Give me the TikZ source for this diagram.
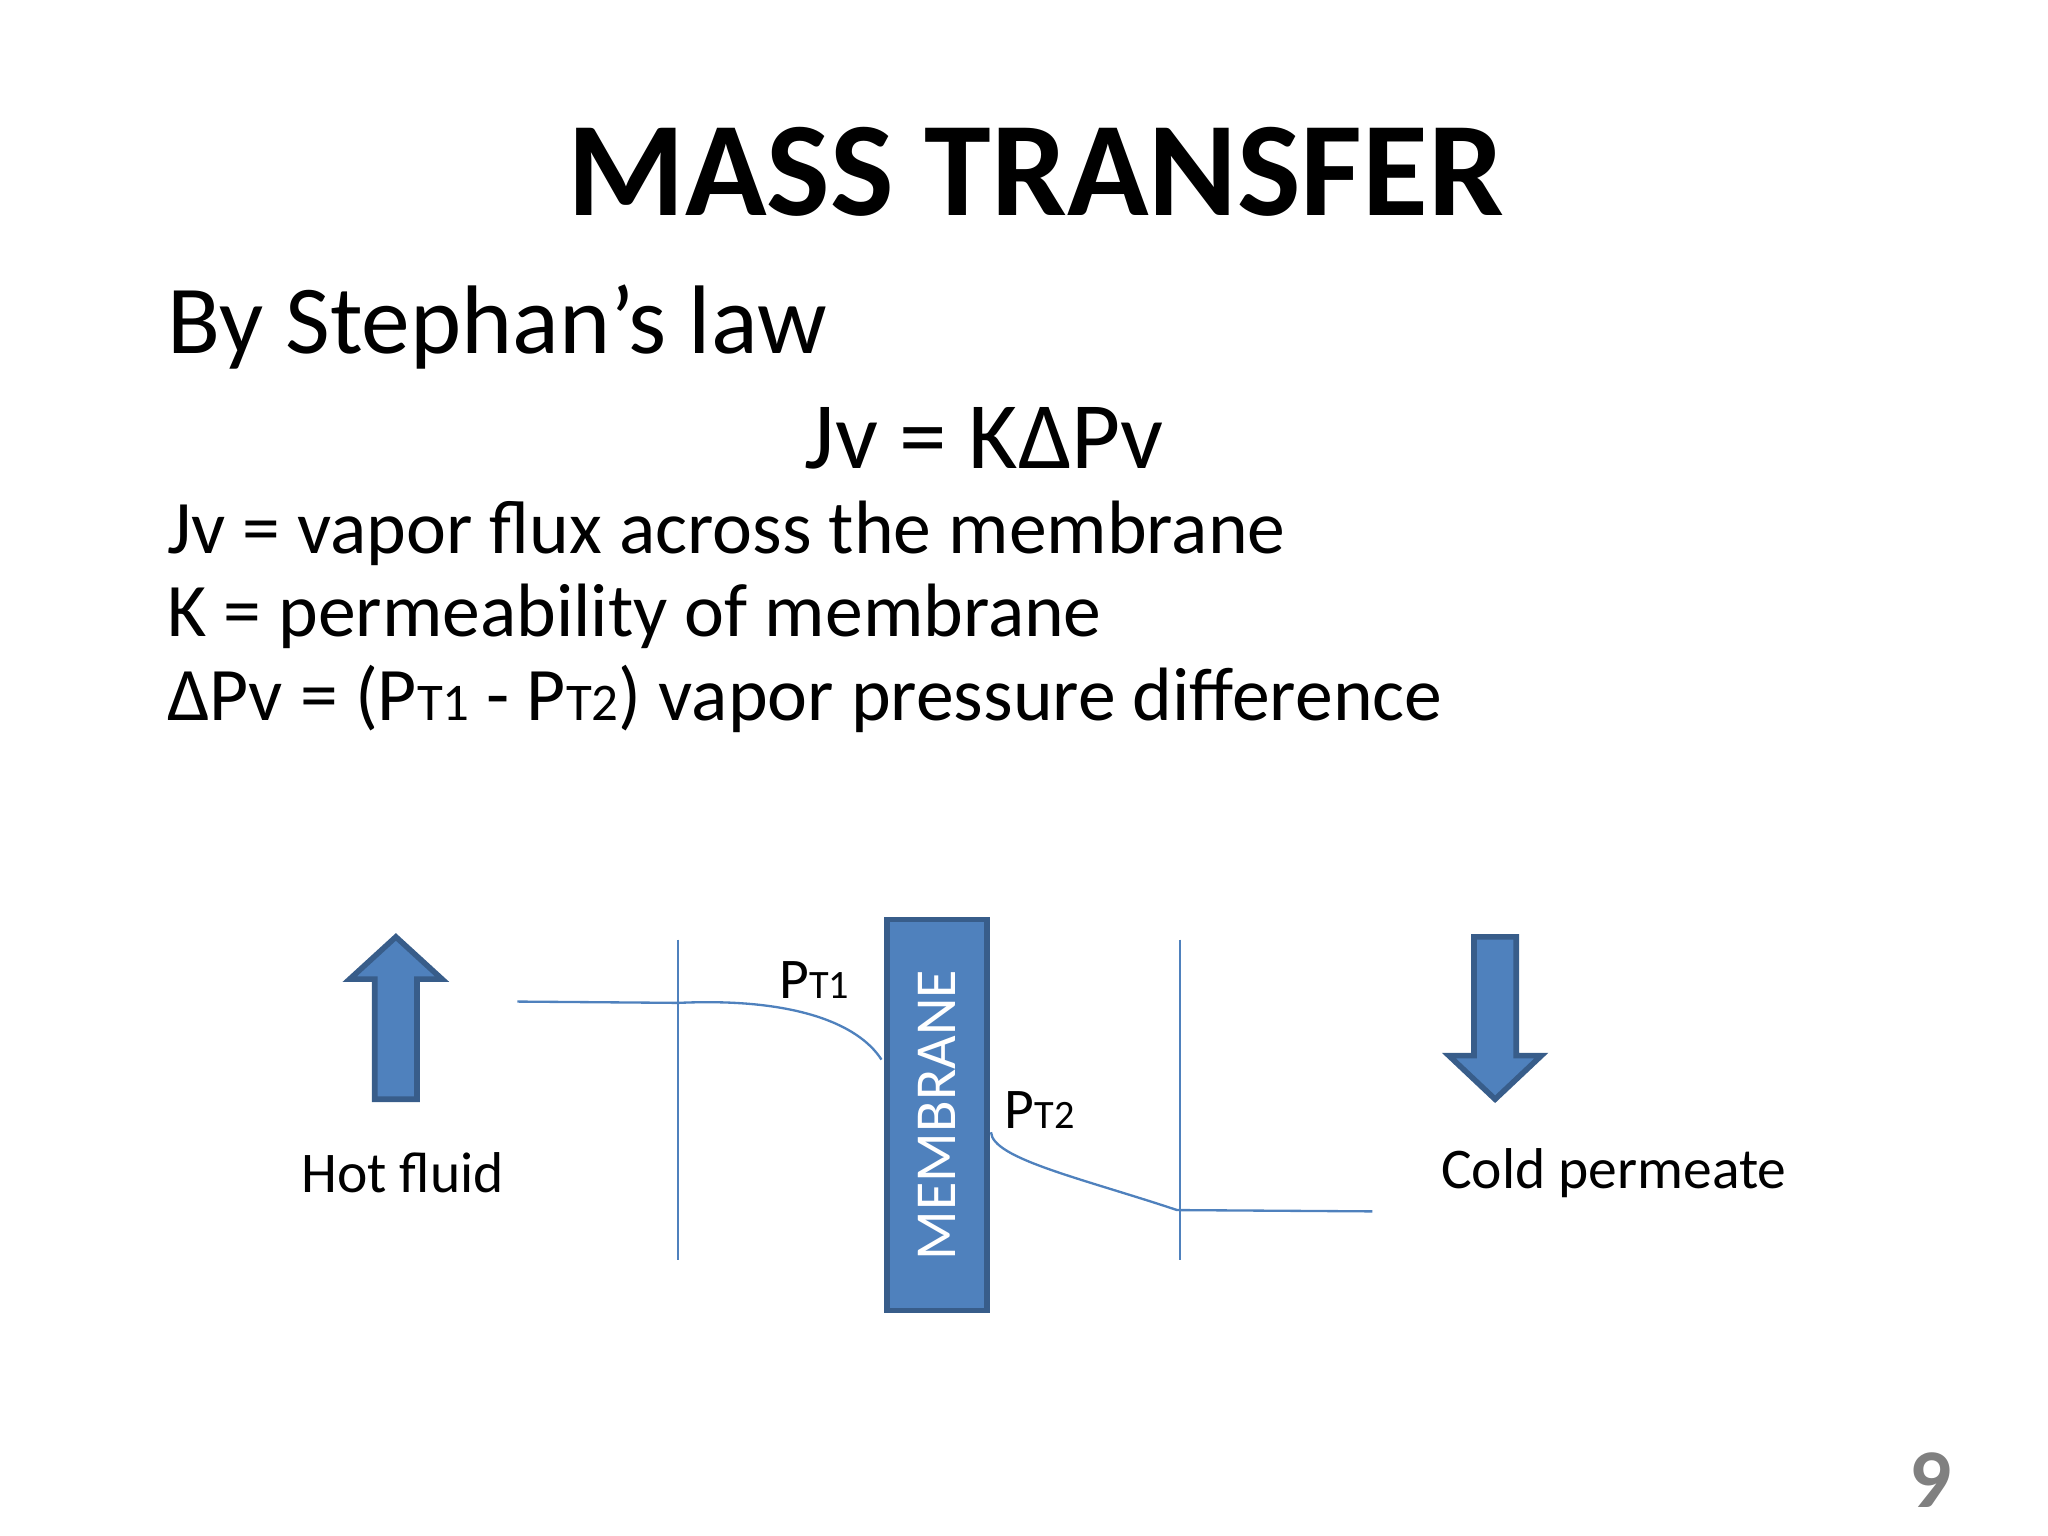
\documentclass[tikz,border=0pt]{standalone}
\usepackage{fontspec}
\setmainfont{Carlito}
\definecolor{mblue}{HTML}{4F81BD}
\definecolor{medge}{HTML}{385D8A}
\newcommand{\smT}[1]{{\fontsize{0.7em}{1em}\selectfont #1}}
\begin{document}
\begin{tikzpicture}[x=0.01cm,y=-0.01cm,
  blk/.style={inner sep=0pt,text=black},
  thin/.style={draw=mblue,line width=0.5pt},
  arr/.style={fill=mblue,draw=medge,line width=1.2pt,line join=miter}]
\useasboundingbox (0,0) rectangle (1552,1164);
\node[blk,font=\bfseries\fontsize{29pt}{34pt}\selectfont] (title) at (785,130) {MASS TRANSFER};
\node[blk,anchor=west,font=\fontsize{21pt}{25pt}\selectfont] (law) at (126,248) {By Stephan’s law};
\node[blk,font=\fontsize{20.5pt}{25pt}\selectfont] (eq) at (746,332) {Jv = KΔPv};
\node[blk,anchor=west,font=\fontsize{16.3pt}{20pt}\selectfont] (l1) at (126,404) {Jv = vapor flux across the membrane};
\node[blk,anchor=west,font=\fontsize{16.3pt}{20pt}\selectfont] (l2) at (126,467) {K = permeability of membrane};
\node[blk,anchor=west,font=\fontsize{16.3pt}{20pt}\selectfont] (l3) at (126,530) {ΔPv = (P\smT{T1} - P\smT{T2}) vapor pressure difference};
% arrows
\path[arr] (284,833) -- (284,742) -- (265,742) -- (300,710) -- (335,742) -- (316,742) -- (316,833) -- cycle;
\path[arr] (1117,710) -- (1149,710) -- (1149,800) -- (1168,800) -- (1133,833) -- (1098,800) -- (1117,800) -- cycle;
% membrane
\node[fill=mblue,draw=medge,line width=1.2pt,minimum width=0.76cm,minimum height=2.96cm,inner sep=0pt] (mem) at (710,845) {};
\node[rotate=90,text=white,font=\fontsize{12.5pt}{15pt}\selectfont] (memt) at (mem.center) {MEMBRANE};
% lines
\coordinate (v1t) at (514,712); \coordinate (v1b) at (514,955);
\coordinate (v2t) at (894,712); \coordinate (v2b) at (894,955);
\draw[thin] (v1t) -- (v1b);
\draw[thin] (v2t) -- (v2b);
\coordinate (h1) at (392,759); \coordinate (h1e) at (514,760);
\coordinate (c1e) at (668,803);
\draw[thin] (h1) -- (h1e) .. controls (600,756) and (650,775) .. (c1e);
\coordinate (c2s) at (751,858); \coordinate (c2e) at (892,917); \coordinate (h2e) at (1040,918);
\draw[thin] (c2s) .. controls (752,878) and (820,893) .. (c2e) -- (h2e);
\node[blk,font=\fontsize{12.4pt}{15pt}\selectfont] (pt1) at (617,743) {P\smT{T1}};
\node[blk,font=\fontsize{12.4pt}{15pt}\selectfont] (pt2) at (788,841) {P\smT{T2}};
\node[blk,font=\fontsize{12.4pt}{15pt}\selectfont] (hot) at (305,889) {Hot fluid};
\node[blk,font=\fontsize{12.4pt}{15pt}\selectfont] (cold) at (1223,889) {Cold permeate};
\node[blk,text=gray,font=\bfseries\fontsize{18pt}{20pt}\selectfont] (num) at (1463,1122) {9};
\end{tikzpicture}
\end{document}
